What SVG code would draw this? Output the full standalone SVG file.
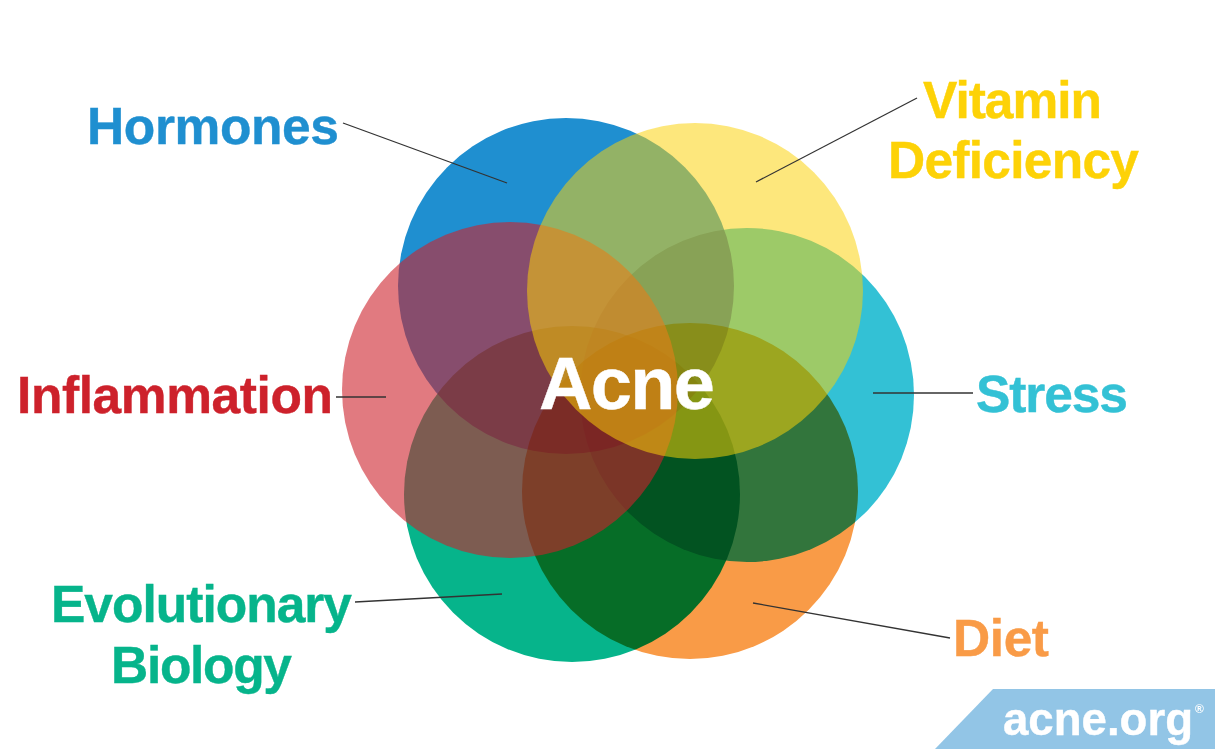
<svg xmlns="http://www.w3.org/2000/svg" width="1215" height="749" viewBox="0 0 1215 749">
<style>
text{font-family:"Liberation Sans",Arial,sans-serif;font-weight:700;stroke-width:.4}
.l{font-size:51.5px}
.m{mix-blend-mode:multiply}
.c{stroke:#333;stroke-width:1.3;fill:none}
.blue{fill:#1f8fd0;stroke:#1f8fd0}
.yellow{fill:#fdd207;stroke:#fdd207}
.cyan{fill:#33c1d5;stroke:#33c1d5}
.red{fill:#cd212b;stroke:#cd212b}
.green{fill:#06b48b;stroke:#06b48b}
.orange{fill:#f99b47;stroke:#f99b47}
.white{fill:#fff;stroke:#fff}
</style>
<rect id="background" width="1215" height="749" fill="#fff"/>
<g id="circles">
<g id="node-hormones"><circle class="m" cx="566" cy="286" r="168" fill="#1f8fd0"/></g>
<g id="node-stress"><circle class="m" cx="747" cy="395" r="167" fill="#33c1d5"/></g>
<g id="node-evolutionary-biology"><circle class="m" cx="572" cy="494" r="168" fill="#06b48b"/></g>
<g id="node-diet"><circle class="m" cx="690" cy="491" r="168" fill="#f99b47"/></g>
<g id="node-inflammation"><circle cx="510" cy="390" r="168" fill="#cd212b" fill-opacity=".6"/></g>
<g id="node-vitamin-deficiency"><circle cx="695" cy="291" r="168" fill="#fbd108" fill-opacity=".53"/></g>
</g>
<g id="connectors">
<line class="c" x1="343" y1="123" x2="507" y2="183"/>
<line class="c" x1="917" y1="98" x2="756" y2="182"/>
<line class="c" x1="336" y1="397" x2="386" y2="397"/>
<line class="c" x1="973" y1="393" x2="873" y2="393"/>
<line class="c" x1="355" y1="602" x2="502" y2="594"/>
<line class="c" x1="950" y1="638" x2="753" y2="603"/>
</g>
<g id="labels">
<text class="l blue" x="87" y="144" textLength="252">Hormones</text>
<text class="l yellow" x="923" y="118" textLength="179">Vitamin</text>
<text class="l yellow" x="888" y="178" textLength="251">Deficiency</text>
<text class="l cyan" x="976" y="412" textLength="152">Stress</text>
<text class="l red" x="17" y="413" textLength="316">Inflammation</text>
<text class="l green" x="51" y="622" textLength="301">Evolutionary</text>
<text class="l green" x="111" y="682.5" textLength="181">Biology</text>
<text class="l orange" x="953" y="656" textLength="96">Diet</text>
<text class="white" x="539" y="409" font-size="74" textLength="176">Acne</text>
</g>
<g id="logo">
<polygon points="993,689 1215,689 1215,749 935,749" fill="#92c5e6"/>
<text class="white" x="1003" y="735" font-size="45.6" textLength="190">acne.org</text>
<text class="white" x="1195" y="713" font-size="12" style="stroke-width:0">®</text>
</g>
</svg>
